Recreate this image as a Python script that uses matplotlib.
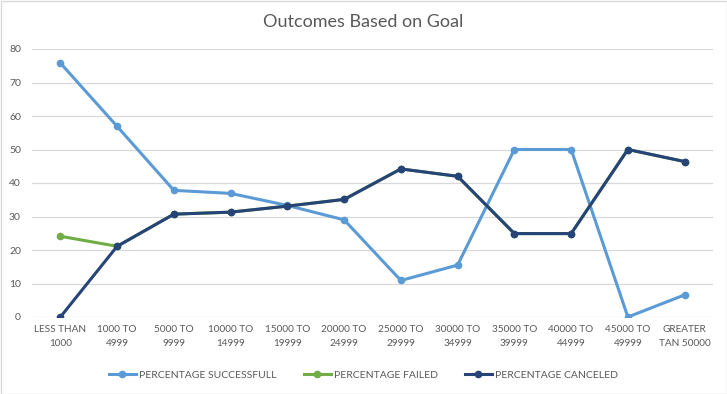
import matplotlib
matplotlib.use('Agg')
import matplotlib.pyplot as plt
from matplotlib.patches import Rectangle

plt.rcParams['font.family'] = ['Lato', 'DejaVu Sans']

goal_ranges = ['LESS THAN\n1000', '1000 TO\n4999', '5000 TO\n9999', '10000 TO\n14999',
               '15000 TO\n19999', '20000 TO\n24999', '25000 TO\n29999', '30000 TO\n34999',
               '35000 TO\n39999', '40000 TO\n44999', '45000 TO\n49999', 'GREATER\nTAN 50000']
pct_successful = [75.8, 56.9, 37.8, 36.9, 33.3, 29.0, 10.9, 15.5, 50.0, 50.0, 0.0, 6.6]
pct_failed = [24.1, 21.1, 30.7, 31.3, 33.1, 35.1, 44.2, 42.0, 24.9, 24.9, 50.0, 46.4]
pct_canceled = [0.0, 21.1, 30.7, 31.3, 33.1, 35.1, 44.2, 42.0, 24.9, 24.9, 50.0, 46.4]

series = [
    ('PERCENTAGE SUCCESSFULL', pct_successful, '#5B9BD5'),
    ('PERCENTAGE FAILED', pct_failed, '#70AD47'),
    ('PERCENTAGE CANCELED', pct_canceled, '#264478'),
]

fig = plt.figure(figsize=(7.27, 3.94), dpi=100)
ax = fig.add_axes([32 / 727, 77 / 394, 681 / 727, 268 / 394])

x = list(range(len(goal_ranges)))
for name, vals, color in series:
    ax.plot(x, vals, color=color, linewidth=2.2, marker='o', markersize=4.5, label=name)

ax.set_xlim(-0.5, len(goal_ranges) - 0.5)
ax.set_ylim(0, 80)
ax.set_yticks(range(0, 81, 10))
ax.set_xticks(x)
ax.set_xticklabels(goal_ranges, fontsize=7.2, color='#595959', linespacing=1.6)
ax.tick_params(axis='y', labelsize=7.5, labelcolor='#595959', length=0, pad=8)
ax.tick_params(axis='x', length=0, pad=6)
ax.grid(axis='y', color='#D9D9D9', linewidth=0.9)
ax.set_axisbelow(True)
for s in ax.spines.values():
    s.set_visible(False)

fig.text(0.5, 1 - 22 / 394, 'Outcomes Based on Goal', ha='center', va='center',
         fontsize=13, color='#595959')

fig.legend(loc='center', bbox_to_anchor=(0.5, 1 - 375 / 394), ncol=3, frameon=False,
           fontsize=7.5, labelcolor='#595959', handlelength=2.6, columnspacing=2.6,
           handletextpad=0.3)

fig.patches.append(Rectangle((0.5 / 727, 0.5 / 394), 1 - 1 / 727, 1 - 1 / 394,
                             transform=fig.transFigure, fill=False,
                             edgecolor='#D9D9D9', linewidth=1))

fig.savefig('out.png', dpi=100)
